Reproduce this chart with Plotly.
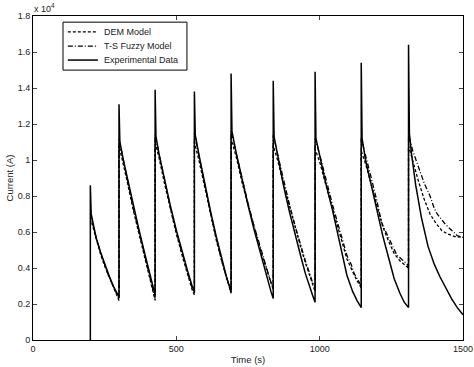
import plotly.graph_objects as go

# ---------------- data (current in units of 1e4 A) ----------------
t_exp = [200, 200, 203, 210, 220, 235, 250, 265, 280, 290, 300,
         300, 303, 315, 330, 350, 370, 390, 405, 415, 426,
         426, 429, 440, 460, 480, 500, 520, 540, 555, 563,
         563, 566, 580, 600, 620, 640, 660, 675, 685, 691,
         691, 694, 710, 730, 750, 770, 790, 805, 820, 830, 838,
         838, 841, 855, 875, 895, 915, 935, 950, 965, 975, 984,
         984, 987, 1000, 1020, 1045, 1070, 1095, 1115, 1130, 1145,
         1145, 1148, 1160, 1180, 1200, 1220, 1240, 1260, 1280, 1295, 1310,
         1310, 1313, 1320, 1335, 1355, 1378, 1400, 1420, 1440, 1460, 1480, 1500]
i_exp = [0.00, 0.86, 0.70, 0.64, 0.57, 0.49, 0.42, 0.36, 0.30, 0.27, 0.24,
         1.31, 1.10, 1.00, 0.89, 0.74, 0.61, 0.48, 0.39, 0.32, 0.25,
         1.39, 1.13, 1.03, 0.88, 0.74, 0.61, 0.49, 0.38, 0.30, 0.27,
         1.38, 1.14, 1.02, 0.86, 0.71, 0.57, 0.44, 0.35, 0.30, 0.27,
         1.48, 1.16, 1.03, 0.88, 0.75, 0.62, 0.50, 0.41, 0.33, 0.27, 0.23,
         1.44, 1.13, 1.01, 0.85, 0.71, 0.58, 0.46, 0.37, 0.29, 0.25, 0.21,
         1.49, 1.12, 1.02, 0.88, 0.72, 0.53, 0.36, 0.27, 0.22, 0.18,
         1.54, 1.12, 1.00, 0.86, 0.72, 0.58, 0.46, 0.34, 0.26, 0.21, 0.18,
         1.64, 1.15, 1.04, 0.86, 0.68, 0.52, 0.42, 0.35, 0.29, 0.23, 0.18, 0.14]

t_dem = [200, 210, 220, 235, 250, 265, 280, 290, 300,
         300, 315, 330, 350, 370, 390, 405, 415, 426,
         426, 440, 460, 480, 500, 520, 540, 555, 563,
         563, 580, 600, 620, 640, 660, 675, 685, 691,
         691, 710, 730, 750, 770, 790, 805, 820, 830, 838,
         838, 855, 875, 895, 915, 935, 950, 965, 975, 984,
         984, 1000, 1020, 1045, 1070, 1095, 1115, 1130, 1145,
         1145, 1160, 1180, 1200, 1220, 1240, 1260, 1280, 1295, 1310,
         1310, 1325, 1345, 1365, 1385, 1405, 1425, 1445, 1470, 1500]
i_dem = [0.68, 0.62, 0.56, 0.48, 0.41, 0.35, 0.29, 0.25, 0.22,
         1.08, 0.98, 0.87, 0.72, 0.59, 0.46, 0.37, 0.30, 0.22,
         1.10, 1.01, 0.86, 0.72, 0.59, 0.47, 0.36, 0.28, 0.25,
         1.10, 0.99, 0.84, 0.69, 0.55, 0.43, 0.34, 0.28, 0.26,
         1.12, 1.01, 0.87, 0.75, 0.63, 0.52, 0.44, 0.37, 0.32, 0.28,
         1.08, 0.99, 0.86, 0.74, 0.62, 0.51, 0.43, 0.36, 0.31, 0.27,
         1.06, 0.99, 0.87, 0.73, 0.60, 0.45, 0.38, 0.33, 0.29,
         1.05, 0.98, 0.86, 0.74, 0.63, 0.55, 0.48, 0.44, 0.42, 0.40,
         1.08, 0.99, 0.88, 0.78, 0.70, 0.65, 0.61, 0.59, 0.575, 0.57]

t_ts = [200, 210, 220, 235, 250, 265, 280, 290, 300,
        300, 315, 330, 350, 370, 390, 405, 415, 426,
        426, 440, 460, 480, 500, 520, 540, 555, 563,
        563, 580, 600, 620, 640, 660, 675, 685, 691,
        691, 710, 730, 750, 770, 790, 805, 820, 830, 838,
        838, 855, 875, 895, 915, 935, 950, 965, 975, 984,
        984, 1000, 1020, 1045, 1070, 1095, 1110, 1120, 1135, 1145,
        1145, 1160, 1180, 1200, 1215, 1222, 1240, 1255, 1270, 1285, 1300, 1306, 1310,
        1310, 1325, 1345, 1365, 1385, 1400, 1410, 1425, 1440, 1460, 1480, 1490, 1500]
i_ts = [0.70, 0.63, 0.57, 0.49, 0.42, 0.35, 0.30, 0.26, 0.23,
        1.12, 1.00, 0.88, 0.73, 0.60, 0.47, 0.38, 0.31, 0.23,
        1.14, 1.03, 0.87, 0.73, 0.60, 0.48, 0.37, 0.29, 0.26,
        1.15, 1.01, 0.85, 0.70, 0.56, 0.43, 0.35, 0.29, 0.26,
        1.16, 1.03, 0.89, 0.76, 0.64, 0.53, 0.45, 0.37, 0.32, 0.29,
        1.14, 1.02, 0.88, 0.75, 0.63, 0.52, 0.44, 0.37, 0.32, 0.29,
        1.12, 1.03, 0.90, 0.75, 0.61, 0.47, 0.42, 0.37, 0.33, 0.30,
        1.12, 1.03, 0.90, 0.77, 0.66, 0.63, 0.57, 0.52, 0.47, 0.45, 0.43, 0.42, 0.40,
        1.14, 1.05, 0.96, 0.87, 0.80, 0.73, 0.70, 0.67, 0.64, 0.61, 0.58, 0.575, 0.57]

series_names = ["DEM Model", "T-S Fuzzy Model", "Experimental Data"]

x_ticks = [0, 500, 1000, 1500]
y_ticks = [0, 0.2, 0.4, 0.6, 0.8, 1.0, 1.2, 1.4, 1.6, 1.8]
y_tick_text = ["0", "0.2", "0.4", "0.6", "0.8", "1", "1.2", "1.4", "1.6", "1.8"]

FONT = "Liberation Sans, Arial, Helvetica, sans-serif"
TXT = "#222"
styles = [dict(color="black", width=1.3, dash="3px,2px"),
          dict(color="black", width=1.3, dash="5px,2px,1px,2px"),
          dict(color="black", width=1.5)]

fig = go.Figure()
for tx, iy, nm, st in zip([t_dem, t_ts, t_exp], [i_dem, i_ts, i_exp], series_names, styles):
    fig.add_trace(go.Scatter(x=tx, y=iy, mode="lines", name=nm, line=st,
                             showlegend=False))

# compact MATLAB-style legend box (paper coordinates)
shapes = [dict(type="rect", xref="paper", yref="paper", x0=0.0698, x1=0.358,
               y0=0.833, y1=0.981, line=dict(color="black", width=1),
               fillcolor="white", layer="above")]
annotations = []
row_y = [0.951, 0.907, 0.864]
for nm, st, ry in zip(series_names, styles, row_y):
    shapes.append(dict(type="line", xref="paper", yref="paper", x0=0.081, x1=0.151,
                       y0=ry, y1=ry, line=st, layer="above"))
    annotations.append(dict(text=nm, xref="paper", yref="paper", x=0.160, y=ry,
                            xanchor="left", yanchor="middle", showarrow=False,
                            font=dict(size=9, color=TXT)))

annotations.append(dict(text="x 10<sup>4</sup>", xref="paper", yref="paper",
                        x=-0.003, y=1.0, xanchor="left", yanchor="bottom",
                        showarrow=False, font=dict(size=9, color=TXT)))

fig.update_layout(
    width=474, height=367,
    margin=dict(l=33, r=11, t=16, b=27),
    paper_bgcolor="white", plot_bgcolor="white",
    font=dict(family=FONT, size=9, color=TXT),
    showlegend=False,
    xaxis=dict(range=[0, 1500], tickvals=x_ticks, ticks="inside", ticklen=4,
               showline=True, linecolor="black", linewidth=1, mirror="ticks",
               showgrid=False, zeroline=False, automargin=False,
               title=dict(text="Time (s)", standoff=3, font=dict(size=9.5))),
    yaxis=dict(range=[0, 1.8], tickvals=y_ticks, ticktext=y_tick_text,
               ticks="inside", ticklen=4,
               showline=True, linecolor="black", linewidth=1, mirror="ticks",
               showgrid=False, zeroline=False, automargin=False,
               title=dict(text="Current (A)", standoff=2, font=dict(size=9.5))),
    shapes=shapes,
    annotations=annotations,
)

fig.write_html("out.html", config={"displayModeBar": False},
               post_script="document.body.style.margin='0';document.body.style.overflow='hidden';")
